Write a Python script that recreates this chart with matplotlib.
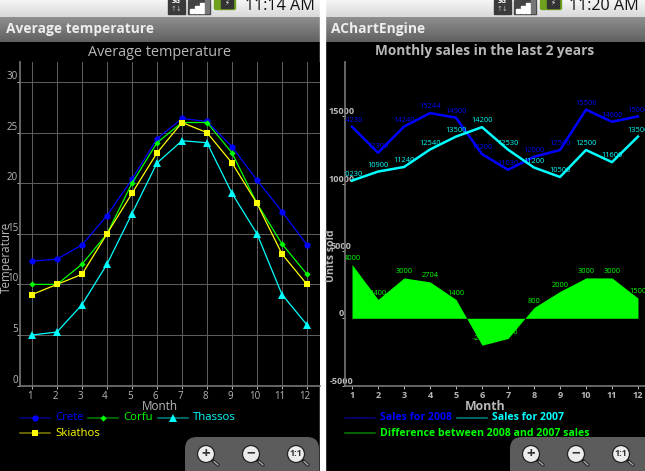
import matplotlib
matplotlib.use("Agg")
import matplotlib.pyplot as plt
import numpy as np
from matplotlib.patches import Circle, FancyBboxPatch, Rectangle
from matplotlib.transforms import ScaledTranslation

plt.rcParams["font.family"] = ["Open Sans", "DejaVu Sans"]

months = [1, 2, 3, 4, 5, 6, 7, 8, 9, 10, 11, 12]

# left chart, average temperature
crete = [12.3, 12.5, 13.9, 16.8, 20.4, 24.4, 26.4, 26.1, 23.6, 20.3, 17.2, 13.9]
corfu = [10, 10, 12, 15, 20, 24, 26, 26, 23, 18, 14, 11]
thassos = [5, 5.3, 8, 12, 17, 22, 24.2, 24, 19, 15, 9, 6]
skiathos = [9, 10, 11, 15, 19, 23, 26, 25, 22, 18, 13, 10]
temp_ticks = [0, 5, 10, 15, 20, 25, 30]

# right chart, monthly sales
sales_2008 = [14230, 12300, 14240, 15244, 14900, 12200, 11030, 12000, 12500, 15500, 14600, 15000]
sales_2007 = [10230, 10900, 11240, 12540, 13500, 14200, 12530, 11200, 10500, 12500, 11600, 13500]
difference = [4000, 1400, 3000, 2704, 1400, -2000, -1500, 800, 2000, 3000, 3000, 1500]
sales_ticks = [-5000, 0, 5000, 10000, 15000]

W, H = 645, 471
GRAY = "#777777"
TEXT = "#b8b8b8"


def pixel_axes(fig, x0, y0, x1, y1):
    return fig.add_axes([x0 / W, 1 - y1 / H, (x1 - x0) / W, (y1 - y0) / H])


def gradient(bg, x0, x1, y0, y1, top, bottom):
    grad = np.linspace(top, bottom, 32).reshape(-1, 1)
    bg.imshow(grad, cmap="gray", vmin=0, vmax=1, aspect="auto",
              extent=[x0, x1, y1, y0], zorder=1)


def status_icons(bg, x, time, time_x):
    # 3G box, signal bars, battery
    bg.add_patch(Rectangle((x, 0), 17, 14, color="#3a3a3a", zorder=2))
    bg.text(x + 8, 1.5, "3G", color="white", fontsize=5, fontweight="bold",
            ha="center", va="center", zorder=3)
    bg.text(x + 8.5, 9, "↑↓", color="#bbbbbb", fontsize=5, ha="center", va="center", zorder=3)
    bg.add_patch(Rectangle((x + 20, 0), 22, 14, color="#444444", zorder=2))
    for i, h in enumerate([4, 7, 10, 13]):
        color = "white" if i < 3 else "#777777"
        bg.add_patch(Rectangle((x + 22 + i * 5, 13 - h), 3.5, h, color=color, zorder=3))
    bg.add_patch(FancyBboxPatch((x + 48, 0), 18, 8, boxstyle="round,pad=1.5",
                                color="#6fa01e", zorder=2))
    bg.add_patch(Rectangle((x + 53, 0), 12, 7.5, color="#333333", zorder=3))
    bg.text(x + 59, 3.5, "⚡", color="white", fontsize=5, ha="center", va="center", zorder=4)
    bg.text(time_x, 6, time, color="#111111", fontsize=11.6, ha="left", va="center",
            zorder=3, clip_on=True)


def zoom_pill(bg, x0, x1, centers):
    bg.add_patch(FancyBboxPatch((x0, 437), x1 - x0, 50,
                                boxstyle="round,pad=0,rounding_size=12",
                                linewidth=0, facecolor="#5c5c5c", zorder=5))
    for cx, sign in zip(centers, ["+", "−", "1:1"]):
        bg.plot([cx + 5, cx + 12], [459, 465], color="#222222", lw=2.4,
                solid_capstyle="round", zorder=6)
        bg.plot([cx + 8, cx + 12], [461.5, 465], color="#aaaaaa", lw=1,
                solid_capstyle="round", zorder=7)
        bg.add_patch(Circle((cx, 454), 8.5, facecolor="#ececec", edgecolor="#222222",
                            linewidth=0.9, zorder=6))
        size = 6.5 if sign == "1:1" else 11
        bg.text(cx, 453.5, sign, color="#333333", fontsize=size, fontweight="bold",
                ha="center", va="center", zorder=7)


def legend_entry(bg, x, y, name, color, marker=None, ms=0, bold=False):
    bg.plot([x, x + 30], [y, y], color=color, alpha=0.5, lw=1.1, zorder=3)
    if marker:
        bg.plot([x + 15], [y], marker=marker, ms=ms, color=color, mew=0, zorder=4)
    bg.text(x + 35, y, name, color=color, fontsize=8.2 if not bold else 7.6,
            fontweight="bold" if bold else "normal", ha="left", va="center", zorder=4)


def style_axis(ax):
    ax.set_facecolor("black")
    ax.spines["top"].set_visible(False)
    ax.spines["right"].set_visible(False)
    for side in ["left", "bottom"]:
        ax.spines[side].set_color(GRAY)
        ax.spines[side].set_linewidth(1.2)
    ax.set_xticks(months)
    ax.set_xticklabels([str(m) for m in months])


def draw_temperature(fig):
    ax = pixel_axes(fig, 20, 62, 320, 385.6)
    style_axis(ax)
    ax.set_xlim(0.52, 12.52)
    ax.set_ylim(0, 31.98)
    ax.set_yticks(temp_ticks)
    ax.set_yticklabels([str(t) for t in temp_ticks], va="bottom")
    ax.tick_params(axis="both", colors=TEXT, labelsize=7, length=2.5, width=0.7, pad=1.5)
    ax.tick_params(axis="y", pad=-1)
    ax.grid(True, color="#5f5f5f", lw=0.7)
    ax.set_axisbelow(True)
    shift = ScaledTranslation(-2 / 100, 0, fig.dpi_scale_trans)
    for label in ax.get_xticklabels():
        label.set_transform(label.get_transform() + shift)

    ax.plot(months, crete, color="#0000ff", lw=0.9, marker="o", ms=4.5, mew=0)
    ax.plot(months, corfu, color="#00ff00", lw=0.9, marker="D", ms=3.2, mew=0)
    ax.plot(months, thassos, color="#00ffff", lw=0.9, marker="^", ms=5.5, mew=0)
    ax.plot(months, skiathos, color="#ffff00", lw=0.9, marker="s", ms=4.4, mew=0)

    fig.text(160 / W, 1 - 52 / H, "Average temperature", color=TEXT, fontsize=10.4,
             ha="center", va="center")
    fig.text(160 / W, 1 - 406 / H, "Month", color=TEXT, fontsize=8.4, ha="center", va="center")
    fig.text(6 / W, 1 - 257 / H, "Temperature", color=TEXT, fontsize=8.4, rotation=90,
             ha="center", va="center")


def draw_sales(fig):
    ax = pixel_axes(fig, 345, 62, 645, 385.6)
    style_axis(ax)
    ax.set_xlim(0.73, 12.27)
    ax.set_ylim(-5000, 19040)
    ax.set_yticks(sales_ticks)
    ax.set_yticklabels([str(t) for t in sales_ticks], va="bottom", ha="center", fontweight="bold")
    ax.tick_params(axis="both", colors=TEXT, labelsize=6.6, length=2.5, width=0.7, pad=0)
    ax.tick_params(axis="x", pad=1.5)
    for label in ax.get_xticklabels():
        label.set_fontweight("bold")

    for values, color in [(sales_2008, "#0000ff"), (sales_2007, "#00ffff")]:
        ax.plot(months, values, color=color, lw=1.8, zorder=3)
        for m, v in zip(months, values):
            ax.annotate(str(v), (m, v), xytext=(0, 2), textcoords="offset points",
                        color=color, fontsize=5.4, ha="center", va="bottom",
                        annotation_clip=False, clip_on=True, zorder=4)
    for m, v in zip(months, difference):
        ax.annotate(str(v), (m, v), xytext=(0, 2), textcoords="offset points",
                    color="#00ff00", fontsize=5.4, ha="center", va="bottom",
                    annotation_clip=False, clip_on=True, zorder=2)
    ax.fill_between(months, difference, 0, color="#00ff00", linewidth=0, zorder=3)

    fig.text(485 / W, 1 - 51 / H, "Monthly sales in the last 2 years", color=TEXT, fontsize=9.85,
             fontweight="bold", ha="center", va="center")
    fig.text(485 / W, 1 - 406 / H, "Month", color=TEXT, fontsize=8.8, fontweight="bold",
             ha="center", va="center")
    fig.text(331 / W, 1 - 256 / H, "Units sold", color=TEXT, fontsize=7.6, fontweight="bold",
             rotation=90, ha="center", va="center")


def main():
    fig = plt.figure(figsize=(W / 100, H / 100), dpi=100, facecolor="black")

    bg = fig.add_axes([0, 0, 1, 1], zorder=0)
    bg.set_xlim(0, W)
    bg.set_ylim(H, 0)
    bg.axis("off")

    # screenshot furniture of the two phones
    gradient(bg, 0, W, 0, 17, 0.96, 0.85)
    gradient(bg, 0, W, 17, 42, 0.56, 0.38)
    bg.set_xlim(0, W)
    bg.set_ylim(H, 0)
    bg.add_patch(Rectangle((320, 0), 5, H, color="white", zorder=8))
    status_icons(bg, 168, "11:14 AM", 245)
    status_icons(bg, 494, "11:20 AM", 569)
    bg.text(6, 29, "Average temperature", color="#eeeeee", fontsize=9.9, fontweight="bold",
            ha="left", va="center", zorder=3)
    bg.text(331, 29, "AChartEngine", color="#eeeeee", fontsize=9.9, fontweight="bold",
            ha="left", va="center", zorder=3)

    legend_entry(bg, 20, 418, "Crete", "#0000ff", "o", 4.5)
    legend_entry(bg, 88, 418, "Corfu", "#00ff00", "D", 3.2)
    legend_entry(bg, 158, 418, "Thassos", "#00ffff", "^", 5.5)
    legend_entry(bg, 20, 433, "Skiathos", "#ffff00", "s", 4.4)
    legend_entry(bg, 345, 418, "Sales for 2008", "#0000ff", bold=True)
    legend_entry(bg, 457, 418, "Sales for 2007", "#00ffff", bold=True)
    legend_entry(bg, 345, 433, "Difference between 2008 and 2007 sales", "#00ff00", bold=True)

    zoom_pill(bg, 185, 319, [206, 251, 296])
    zoom_pill(bg, 510, 657, [531, 576, 621])

    draw_temperature(fig)
    draw_sales(fig)

    fig.savefig("out.png", dpi=100, facecolor="black")


if __name__ == "__main__":
    main()
